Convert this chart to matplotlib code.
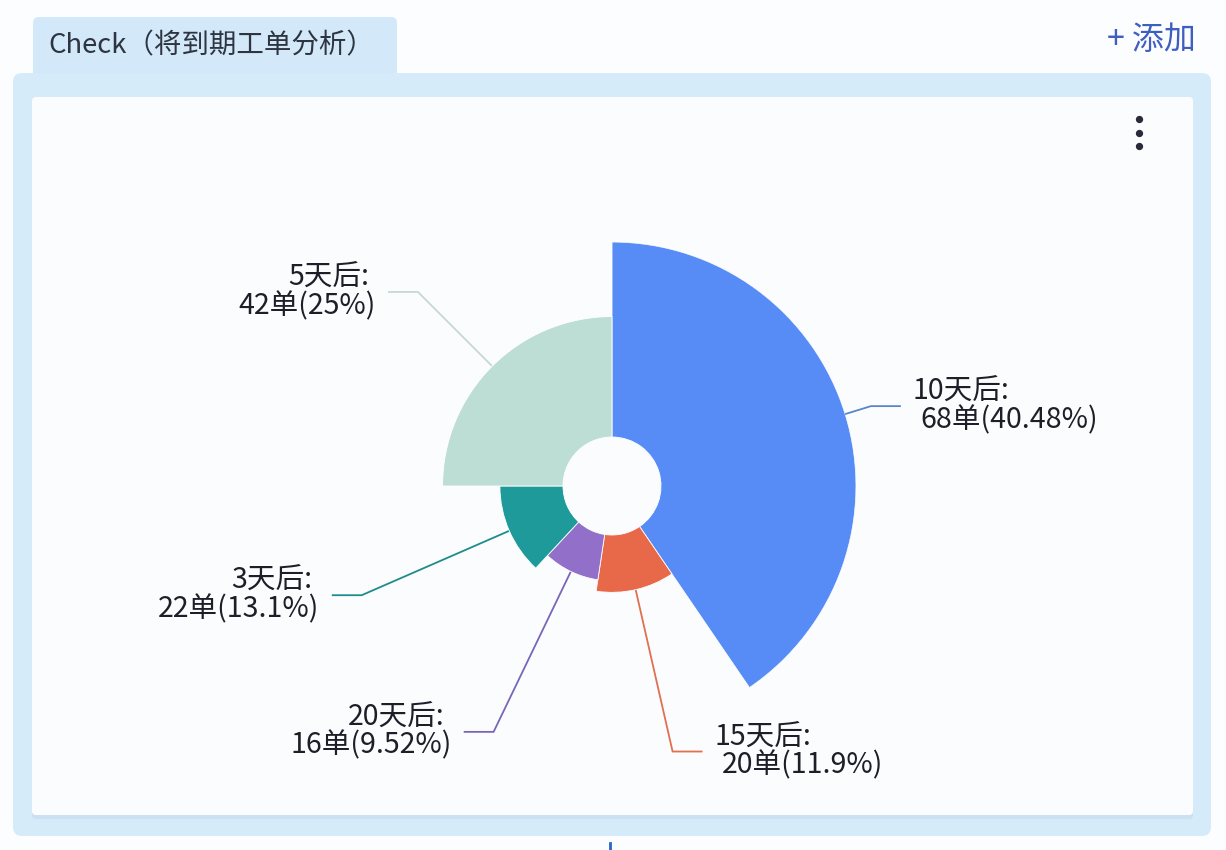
import numpy as np
import matplotlib.pyplot as plt
from matplotlib.patches import FancyBboxPatch

plt.rcParams['font.family'] = ['Noto Sans CJK SC', 'DejaVu Sans']

# 数据（从12点方向顺时针）
categories = ['10天后', '15天后', '20天后', '3天后', '5天后']
counts = [68, 20, 16, 22, 42]
colors = ['#578bf6', '#e8684a', '#9270ca', '#1f9a9a', '#bcded5']
line_colors = ['#5a86c9', '#e07050', '#7a65b8', '#1e8c8c', '#c5d9d3']
# 引导线第一段长度(px)
leader_px = [27, 166, 178, 161, 105]

total = sum(counts)
pcts = [round(c / total * 100, 2) for c in counts]

W, H = 1226, 850
fig = plt.figure(figsize=(W / 100, H / 100), dpi=100)
fig.patch.set_facecolor('#fcfdff')

# 外框UI（像素坐标）
ui = fig.add_axes([0, 0, 1, 1])
ui.set_xlim(0, W)
ui.set_ylim(H, 0)
ui.axis('off')

ui.add_patch(FancyBboxPatch((33, 17), 364, 70, boxstyle='round,pad=0,rounding_size=6',
                            fc='#d3e9fa', ec='none'))
ui.add_patch(FancyBboxPatch((13, 73), 1198, 763, boxstyle='round,pad=0,rounding_size=9',
                            fc='#d6ebfa', ec='none'))
ui.add_patch(FancyBboxPatch((32, 99), 1161, 720, boxstyle='round,pad=0,rounding_size=4',
                            fc='#c4d9ee', ec='none', alpha=0.6))
ui.add_patch(FancyBboxPatch((32, 97), 1161, 718, boxstyle='round,pad=0,rounding_size=4',
                            fc='#fbfcfe', ec='none'))

ui.text(48, 46, 'Check（将到期工单分析）', fontsize=19.8, color='#2e3440', va='center', ha='left')
ui.text(1196, 40, '+ 添加', fontsize=23, color='#3f5fc0', va='center', ha='right')
ui.scatter([1139, 1139, 1139], [119, 133, 146], s=18, color='#2a2a3a', zorder=3)
ui.plot([610, 610], [843, 850], color='#2468c8', lw=2)

# 南丁格尔玫瑰图
cx, cy, R, r_hole = 612, 486, 244, 49
ax = fig.add_axes([(cx - R) / W, (H - cy - R) / H, 2 * R / W, 2 * R / H], projection='polar')
ax.set_theta_zero_location('N')
ax.set_theta_direction(-1)
hole = max(counts) * r_hole / (R - r_hole)
widths = 2 * np.pi * np.array(counts) / total
starts = np.concatenate([[0], np.cumsum(widths)[:-1]])
ax.bar(starts, counts, width=widths, bottom=hole, align='edge', color=colors,
       edgecolor='white', linewidth=0.6)
ax.set_ylim(0, hole + max(counts))
ax.axis('off')

# 标签与引导线
mids = starts + widths / 2
to_ui = ui.transData.inverted()
for i, name in enumerate(categories):
    p0 = to_ui.transform(ax.transData.transform((mids[i], hole + counts[i])))
    d = np.array([np.sin(mids[i]), -np.cos(mids[i])])
    p1 = p0 + leader_px[i] * d
    side = 1 if d[0] > 0 else -1
    p2 = p1 + np.array([side * 29, 0])
    ui.plot([p0[0], p1[0], p2[0]], [p0[1], p1[1], p2[1]], color=line_colors[i], lw=1.3)
    line1 = f'{name}:'
    line2 = f'{counts[i]}单({pcts[i]:g}%)'
    if side > 0:
        x = p2[0] + 13
        ui.text(x, p2[1] - 14, line1, fontsize=20.6, color='#1e1e28', ha='left', va='center')
        ui.text(x + 7, p2[1] + 14, line2, fontsize=20.6, color='#1e1e28', ha='left', va='center')
    else:
        x = p2[0] - 13
        ui.text(x - 7, p2[1] - 14, line1, fontsize=20.6, color='#1e1e28', ha='right', va='center')
        ui.text(x, p2[1] + 14, line2, fontsize=20.6, color='#1e1e28', ha='right', va='center')

fig.savefig('out.png', dpi=100, facecolor=fig.get_facecolor())
